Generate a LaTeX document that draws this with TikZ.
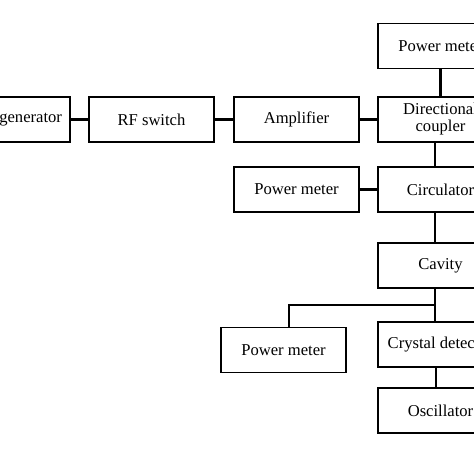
\documentclass[tikz,border=0pt]{standalone}
\usepackage{fontspec}
\setmainfont{Liberation Serif}

\begin{document}
\begin{tikzpicture}
    [x=1pt,y=-1pt,line width=2.4pt,every node/.style={draw,line width=1.7pt,minimum width=125pt,minimum height=45pt,inner sep=2pt,font=\fontsize{16.6}{17}\selectfont,align=center}]
    \clip (0,0) rectangle (474,474);
    \node (pmt) at (440.5,46) {Power meter};
    \node[minimum width=150pt,text width=134pt,align=right] (gen) at (-5,119.5) {generator};
    \node (rf) at (151.5,119.5) {RF switch};
    \node (amp) at (296.5,119.5) {Amplifier};
    \node (dc) at (440.5,119.5) {Directional\\coupler};
    \node (pmc) at (296.5,189.5) {Power meter};
    \node (circ) at (440.5,189.5) {Circulator};
    \node (cav) at (440.5,265.5) {Cavity};
    \node (pmb) at (283.5,350) {Power meter};
    \node (cd) at (440.5,344.5) {Crystal detector};
    \node (osc) at (440.5,410.5) {Oscillator};
    \coordinate (br) at (435,305);
    \draw (gen) -- (rf) ;
    \draw (rf) -- (amp) ;
    \draw (amp) -- (dc) ;
    \draw (pmt) -- (dc) ;
    \draw (pmc) -- (circ) ;
    \draw ([xshift=-5.5pt]dc.south) -- ([xshift=-5.5pt]circ.north) ;
    \draw ([xshift=-5.5pt]circ.south) -- ([xshift=-5.5pt]cav.north) ;
    \draw ([xshift=-5.5pt]cav.south) -- ([xshift=-5.5pt]cd.north) ;
    \draw ([xshift=5.5pt]pmb.north) |- (br) ;
    \draw ([xshift=-4.5pt]cd.south) -- ([xshift=-4.5pt]osc.north) ;
  \end{tikzpicture}
\end{document}
